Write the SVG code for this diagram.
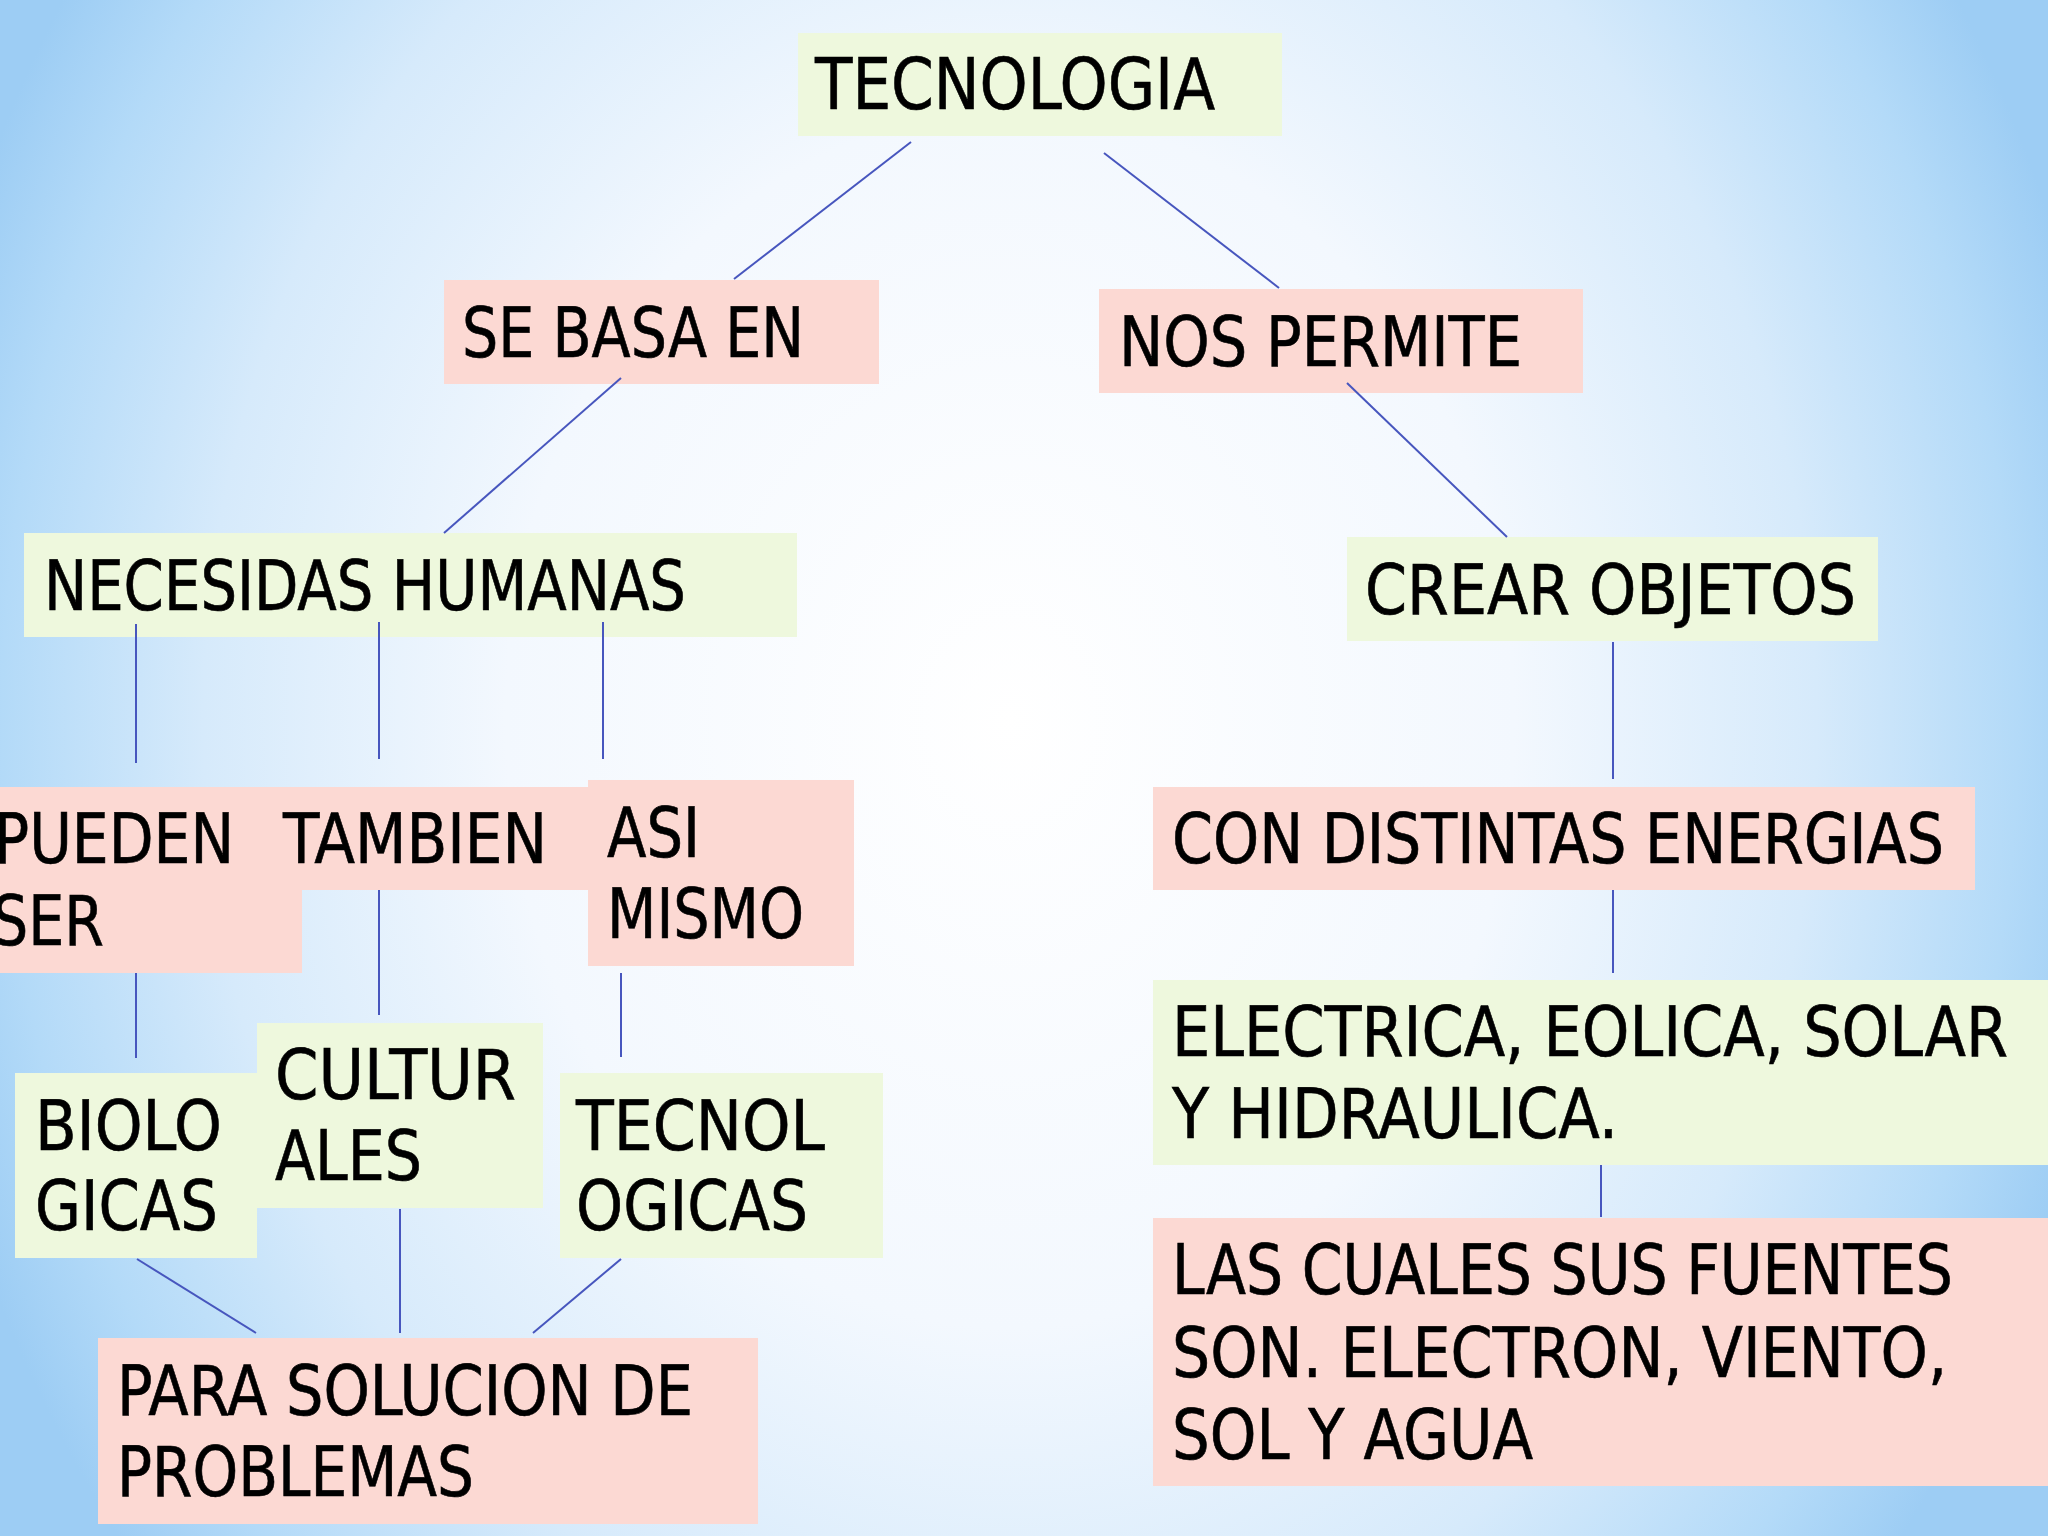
<svg xmlns="http://www.w3.org/2000/svg" width="2048" height="1536" viewBox="0 0 2048 1536">
<defs>
<radialGradient id="bg" gradientUnits="userSpaceOnUse" cx="0" cy="0" r="1" gradientTransform="translate(1010 720) scale(1120 1350)">
<stop offset="0" stop-color="#FFFFFF"/>
<stop offset="0.45" stop-color="#F3F8FE"/>
<stop offset="0.72" stop-color="#D6EAFB"/>
<stop offset="0.9" stop-color="#B3DAF8"/>
<stop offset="1" stop-color="#9DCDF4"/>
</radialGradient>
<style>
.g{fill:#EEF8DD}
.p{fill:#FCD9D3}
.t{font-family:'DejaVu Sans Condensed','DejaVu Sans',sans-serif;font-stretch:condensed;font-size:69px;fill:#000;stroke:#000;stroke-width:0.6}
.c line{stroke:#4756BE;stroke-width:2;fill:none}
</style>
</defs>
<rect x="0" y="0" width="2048" height="1536" fill="url(#bg)"/>

<g id="n-tecnologia"><rect class="g" x="798" y="33" width="484" height="103"/><text class="t" style="font-size:72px" x="815" y="109" textLength="400" lengthAdjust="spacingAndGlyphs">TECNOLOGIA</text></g>
<g id="n-sebasa"><rect class="p" x="444" y="280" width="435" height="104"/><text class="t" x="462" y="357" textLength="342" lengthAdjust="spacingAndGlyphs">SE BASA EN</text></g>
<g id="n-nospermite"><rect class="p" x="1099" y="289" width="484" height="104"/><text class="t" x="1119" y="366" textLength="403" lengthAdjust="spacingAndGlyphs">NOS PERMITE</text></g>
<g id="n-necesidades"><rect class="g" x="24" y="533" width="773" height="104"/><text class="t" x="44" y="610" textLength="642" lengthAdjust="spacingAndGlyphs">NECESIDAS HUMANAS</text></g>
<g id="n-crear"><rect class="g" x="1347" y="537" width="531" height="104"/><text class="t" x="1365" y="614" textLength="491" lengthAdjust="spacingAndGlyphs">CREAR OBJETOS</text></g>
<g id="n-pueden"><rect class="p" x="0" y="787" width="302" height="186"/><text class="t" x="-6" y="863" textLength="240" lengthAdjust="spacingAndGlyphs">PUEDEN</text><text class="t" x="-8" y="945" textLength="112" lengthAdjust="spacingAndGlyphs">SER</text></g>
<g id="n-tambien"><rect class="p" x="256" y="787" width="333" height="103"/><text class="t" x="283" y="863" textLength="264" lengthAdjust="spacingAndGlyphs">TAMBIEN</text></g>
<g id="n-asimismo"><rect class="p" x="588" y="780" width="266" height="186"/><text class="t" x="607" y="857" textLength="93" lengthAdjust="spacingAndGlyphs">ASI</text><text class="t" x="607" y="938" textLength="197" lengthAdjust="spacingAndGlyphs">MISMO</text></g>
<g id="n-condistintas"><rect class="p" x="1153" y="787" width="822" height="103"/><text class="t" x="1172" y="863" textLength="772" lengthAdjust="spacingAndGlyphs">CON DISTINTAS ENERGIAS</text></g>
<g id="n-electrica"><rect class="g" x="1153" y="980" width="895" height="185"/><text class="t" x="1172" y="1056" textLength="836" lengthAdjust="spacingAndGlyphs">ELECTRICA,  EOLICA,  SOLAR</text><text class="t" x="1172" y="1138" textLength="446" lengthAdjust="spacingAndGlyphs">Y HIDRAULICA.</text></g>
<g id="n-lascuales"><rect class="p" x="1153" y="1218" width="895" height="268"/><text class="t" x="1172" y="1294" textLength="781" lengthAdjust="spacingAndGlyphs">LAS CUALES SUS FUENTES</text><text class="t" x="1172" y="1377" textLength="775" lengthAdjust="spacingAndGlyphs">SON. ELECTRON, VIENTO,</text><text class="t" x="1172" y="1459" textLength="361" lengthAdjust="spacingAndGlyphs">SOL Y AGUA</text></g>
<g id="n-biologicas"><rect class="g" x="15" y="1073" width="242" height="185"/><text class="t" x="35" y="1150" textLength="187" lengthAdjust="spacingAndGlyphs">BIOLO</text><text class="t" x="35" y="1230" textLength="183" lengthAdjust="spacingAndGlyphs">GICAS</text></g>
<g id="n-culturales"><rect class="g" x="257" y="1023" width="286" height="185"/><text class="t" x="275" y="1099" textLength="241" lengthAdjust="spacingAndGlyphs">CULTUR</text><text class="t" x="275" y="1180" textLength="147" lengthAdjust="spacingAndGlyphs">ALES</text></g>
<g id="n-tecnologicas"><rect class="g" x="560" y="1073" width="323" height="185"/><text class="t" x="576" y="1150" textLength="249" lengthAdjust="spacingAndGlyphs">TECNOL</text><text class="t" x="576" y="1230" textLength="232" lengthAdjust="spacingAndGlyphs">OGICAS</text></g>
<g id="n-para"><rect class="p" x="98" y="1338" width="660" height="186"/><text class="t" x="117" y="1415" textLength="576" lengthAdjust="spacingAndGlyphs">PARA SOLUCION DE</text><text class="t" x="117" y="1496" textLength="357" lengthAdjust="spacingAndGlyphs">PROBLEMAS</text></g>

<g id="connectors" class="c">
<line x1="911" y1="142" x2="734" y2="279"/>
<line x1="1104" y1="153" x2="1279" y2="288"/>
<line x1="621" y1="378" x2="444" y2="533"/>
<line x1="1347" y1="383" x2="1507" y2="537"/>
<line x1="136" y1="624" x2="136" y2="763"/>
<line x1="379" y1="622" x2="379" y2="759"/>
<line x1="603" y1="622" x2="603" y2="759"/>
<line x1="1613" y1="642" x2="1613" y2="779"/>
<line x1="1613" y1="890" x2="1613" y2="973"/>
<line x1="136" y1="973" x2="136" y2="1058"/>
<line x1="379" y1="890" x2="379" y2="1015"/>
<line x1="621" y1="973" x2="621" y2="1057"/>
<line x1="1601" y1="1165" x2="1601" y2="1217"/>
<line x1="137" y1="1259" x2="256" y2="1333"/>
<line x1="400" y1="1209" x2="400" y2="1333"/>
<line x1="621" y1="1259" x2="533" y2="1333"/>
</g>
</svg>
